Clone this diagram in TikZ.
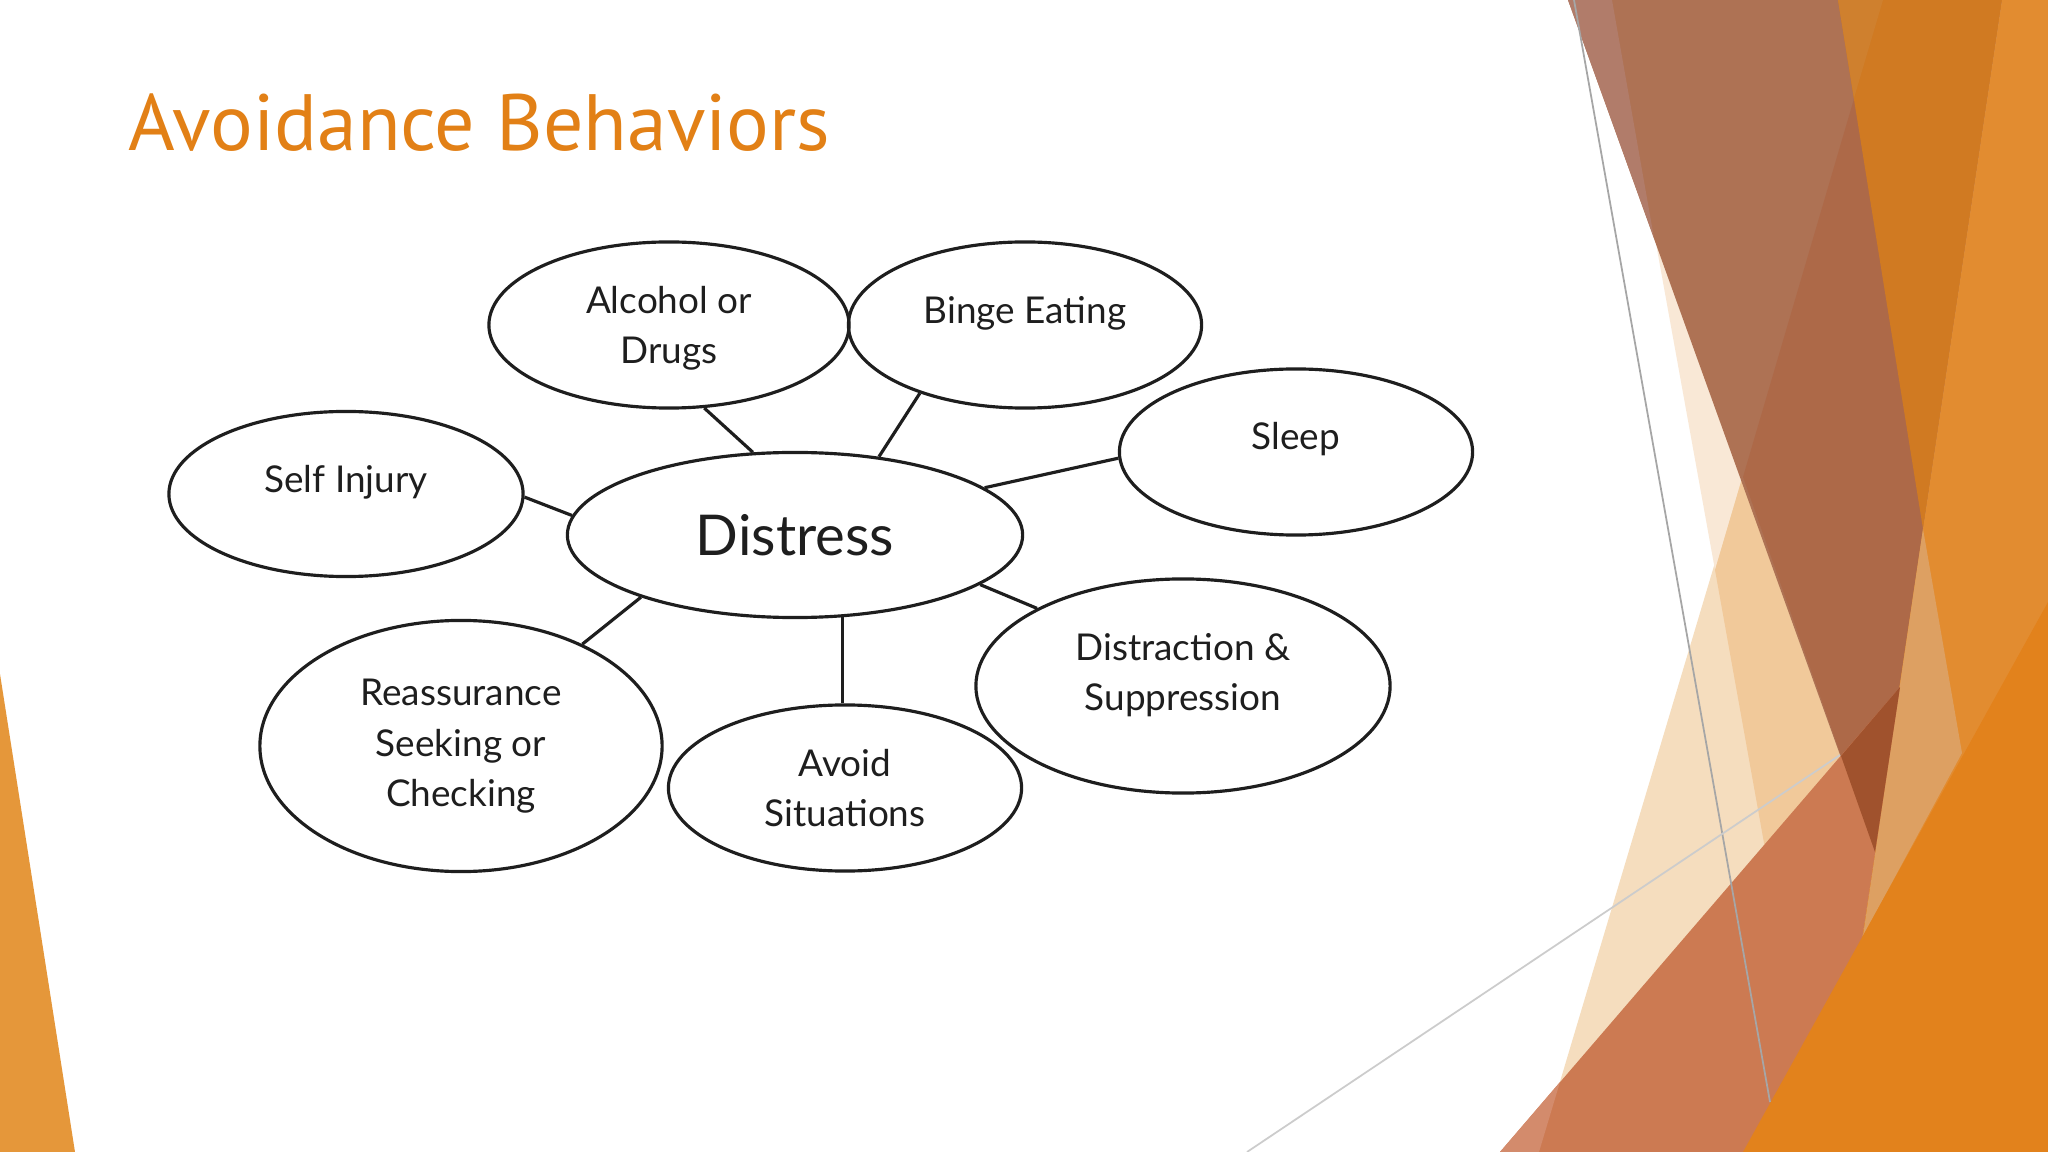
\documentclass[tikz,border=0pt]{standalone}
\usepackage{fontspec}
\setmainfont{PT Sans}
\newfontfamily\bubblefamily{Lato}
\usetikzlibrary{shapes.geometric}

\definecolor{titleorange}{RGB}{226,128,22}
\definecolor{inkgray}{RGB}{30,30,30}
\definecolor{sideorange}{RGB}{229,151,58}
\definecolor{paletan}{RGB}{245,221,190}
\definecolor{palepeach}{RGB}{249,232,214}
\definecolor{peach}{RGB}{241,201,154}
\definecolor{mauve}{RGB}{177,124,106}
\definecolor{brown}{RGB}{174,114,84}
\definecolor{darkbrown}{RGB}{173,105,72}
\definecolor{rust}{RGB}{160,82,45}
\definecolor{lightorange}{RGB}{207,128,46}
\definecolor{deeporange}{RGB}{208,122,34}
\definecolor{midorange}{RGB}{226,140,48}
\definecolor{tanorange}{RGB}{221,160,98}
\definecolor{terracotta}{RGB}{204,122,82}
\definecolor{paleterracotta}{RGB}{211,139,108}
\definecolor{brightorange}{RGB}{226,130,28}

\newcommand{\lifted}[2]{\raisebox{#1}[\height][\depth]{\begin{tabular}{@{}c@{}}#2\end{tabular}}}

\tikzset{
	slidepicture/.style = {
		x = 0.01cm,
		y = -0.01cm,
		link/.style = {
			draw = inkgray,
			line width = 0.9pt
		}
	},
	bubble/.style = {
		ellipse,
		draw = inkgray,
		line width = 0.9pt,
		inner sep = 0pt,
		align = center,
		text = inkgray,
		font = \bubblefamily\fontsize{10.5pt}{14.3pt}\selectfont
	},
	hub/.style = {
		bubble,
		font = \bubblefamily\fontsize{16pt}{19pt}\selectfont
	},
	hairline/.style = {
		line width = 0.5pt
	}
}

\begin{document}
\begin{tikzpicture}[slidepicture]
	\useasboundingbox (0,0) rectangle (2048,1152);
	\fill[white] (0,0) rectangle (2048,1152);

	% facets on the right
	\fill[paletan] (1883,0) -- (2048,0) -- (2048,1152) -- (1539,1152) -- cycle;
	\fill[palepeach] (1612,0) -- (1883,0) -- (1715,570) -- cycle;
	\fill[peach] (1883,0) -- (2048,0) -- (2048,960) -- (1785,960) -- (1715,570) -- cycle;
	\fill[brown] (1568,0) -- (2002,0) -- (1875,852) -- cycle;
	\fill[mauve] (1568,0) -- (1612,0) -- (1654,238) -- cycle;
	\fill[darkbrown] (1883,0) -- (2002,0) -- (1875,852) -- (1743,477) -- cycle;
	\fill[deeporange] (1838,0) -- (2002,0) -- (1923,529) -- cycle;
	\fill[lightorange] (1838,0) -- (1883,0) -- (1854,98) -- cycle;
	\fill[midorange] (2002,0) -- (2048,0) -- (2048,1152) -- (1830,1152) -- cycle;
	\fill[tanorange] (1923,529) -- (1962,753) -- (1863,936) -- cycle;
	\fill[terracotta] (1500,1152) -- (1900,687) -- (1830,1152) -- cycle;
	\fill[paleterracotta] (1500,1152) -- (1560,1082) -- (1539,1152) -- cycle;
	\fill[rust] (1841,756) -- (1900,687) -- (1875,852) -- cycle;
	\fill[brightorange] (1743,1152) -- (2048,602) -- (2048,1152) -- cycle;
	\draw[hairline, gray!70] (1574,0) -- (1770,1102);
	\draw[hairline, gray!40] (1247,1152) -- (1840,755);

	% facet on the left
	\fill[sideorange] (0,674) -- (75,1152) -- (0,1152) -- cycle;

	\node[anchor = base west, inner sep = 0pt, text = titleorange, font = \fontsize{22.7pt}{27pt}\selectfont] (title) at (128,151) {Avoidance Behaviors};

	\node[hub, minimum width = 4.55cm, minimum height = 1.65cm] (D) at (795,535) {Distress};
	\node[bubble, minimum width = 3.60cm, minimum height = 1.66cm] (A) at (669,325) {\lifted{-1pt}{Alcohol or\\Drugs}};
	\node[bubble, minimum width = 3.53cm, minimum height = 1.66cm] (B) at (1025,325) {\lifted{3.4pt}{Binge Eating}};
	\node[bubble, minimum width = 3.53cm, minimum height = 1.66cm] (S) at (1296,452) {\lifted{3.7pt}{Sleep}};
	\node[bubble, minimum width = 3.54cm, minimum height = 1.65cm] (I) at (346,494) {\lifted{3.4pt}{Self Injury}};
	\node[bubble, minimum width = 4.02cm, minimum height = 2.51cm] (R) at (461,746) {\lifted{0pt}{Reassurance\\Seeking or\\Checking}};
	\node[bubble, minimum width = 3.53cm, minimum height = 1.66cm] (V) at (845,788) {Avoid\\Situations};
	\node[bubble, minimum width = 4.14cm, minimum height = 2.14cm] (T) at (1183,686) {\lifted{3pt}{Distraction \&\\Suppression}};

	\begin{scope}[every path/.style = link]
		\path (D.117) to (A.293);
		\path (D.43) to (B.213);
		\path (D.14) to (S.182);
		\path (D.175) to (I.359);
		\path (D.202) to (R.40);
		\path (D.300) to (D.300 |- V.north);
		\path (D.345) to (T.152);
	\end{scope}
\end{tikzpicture}
\end{document}
